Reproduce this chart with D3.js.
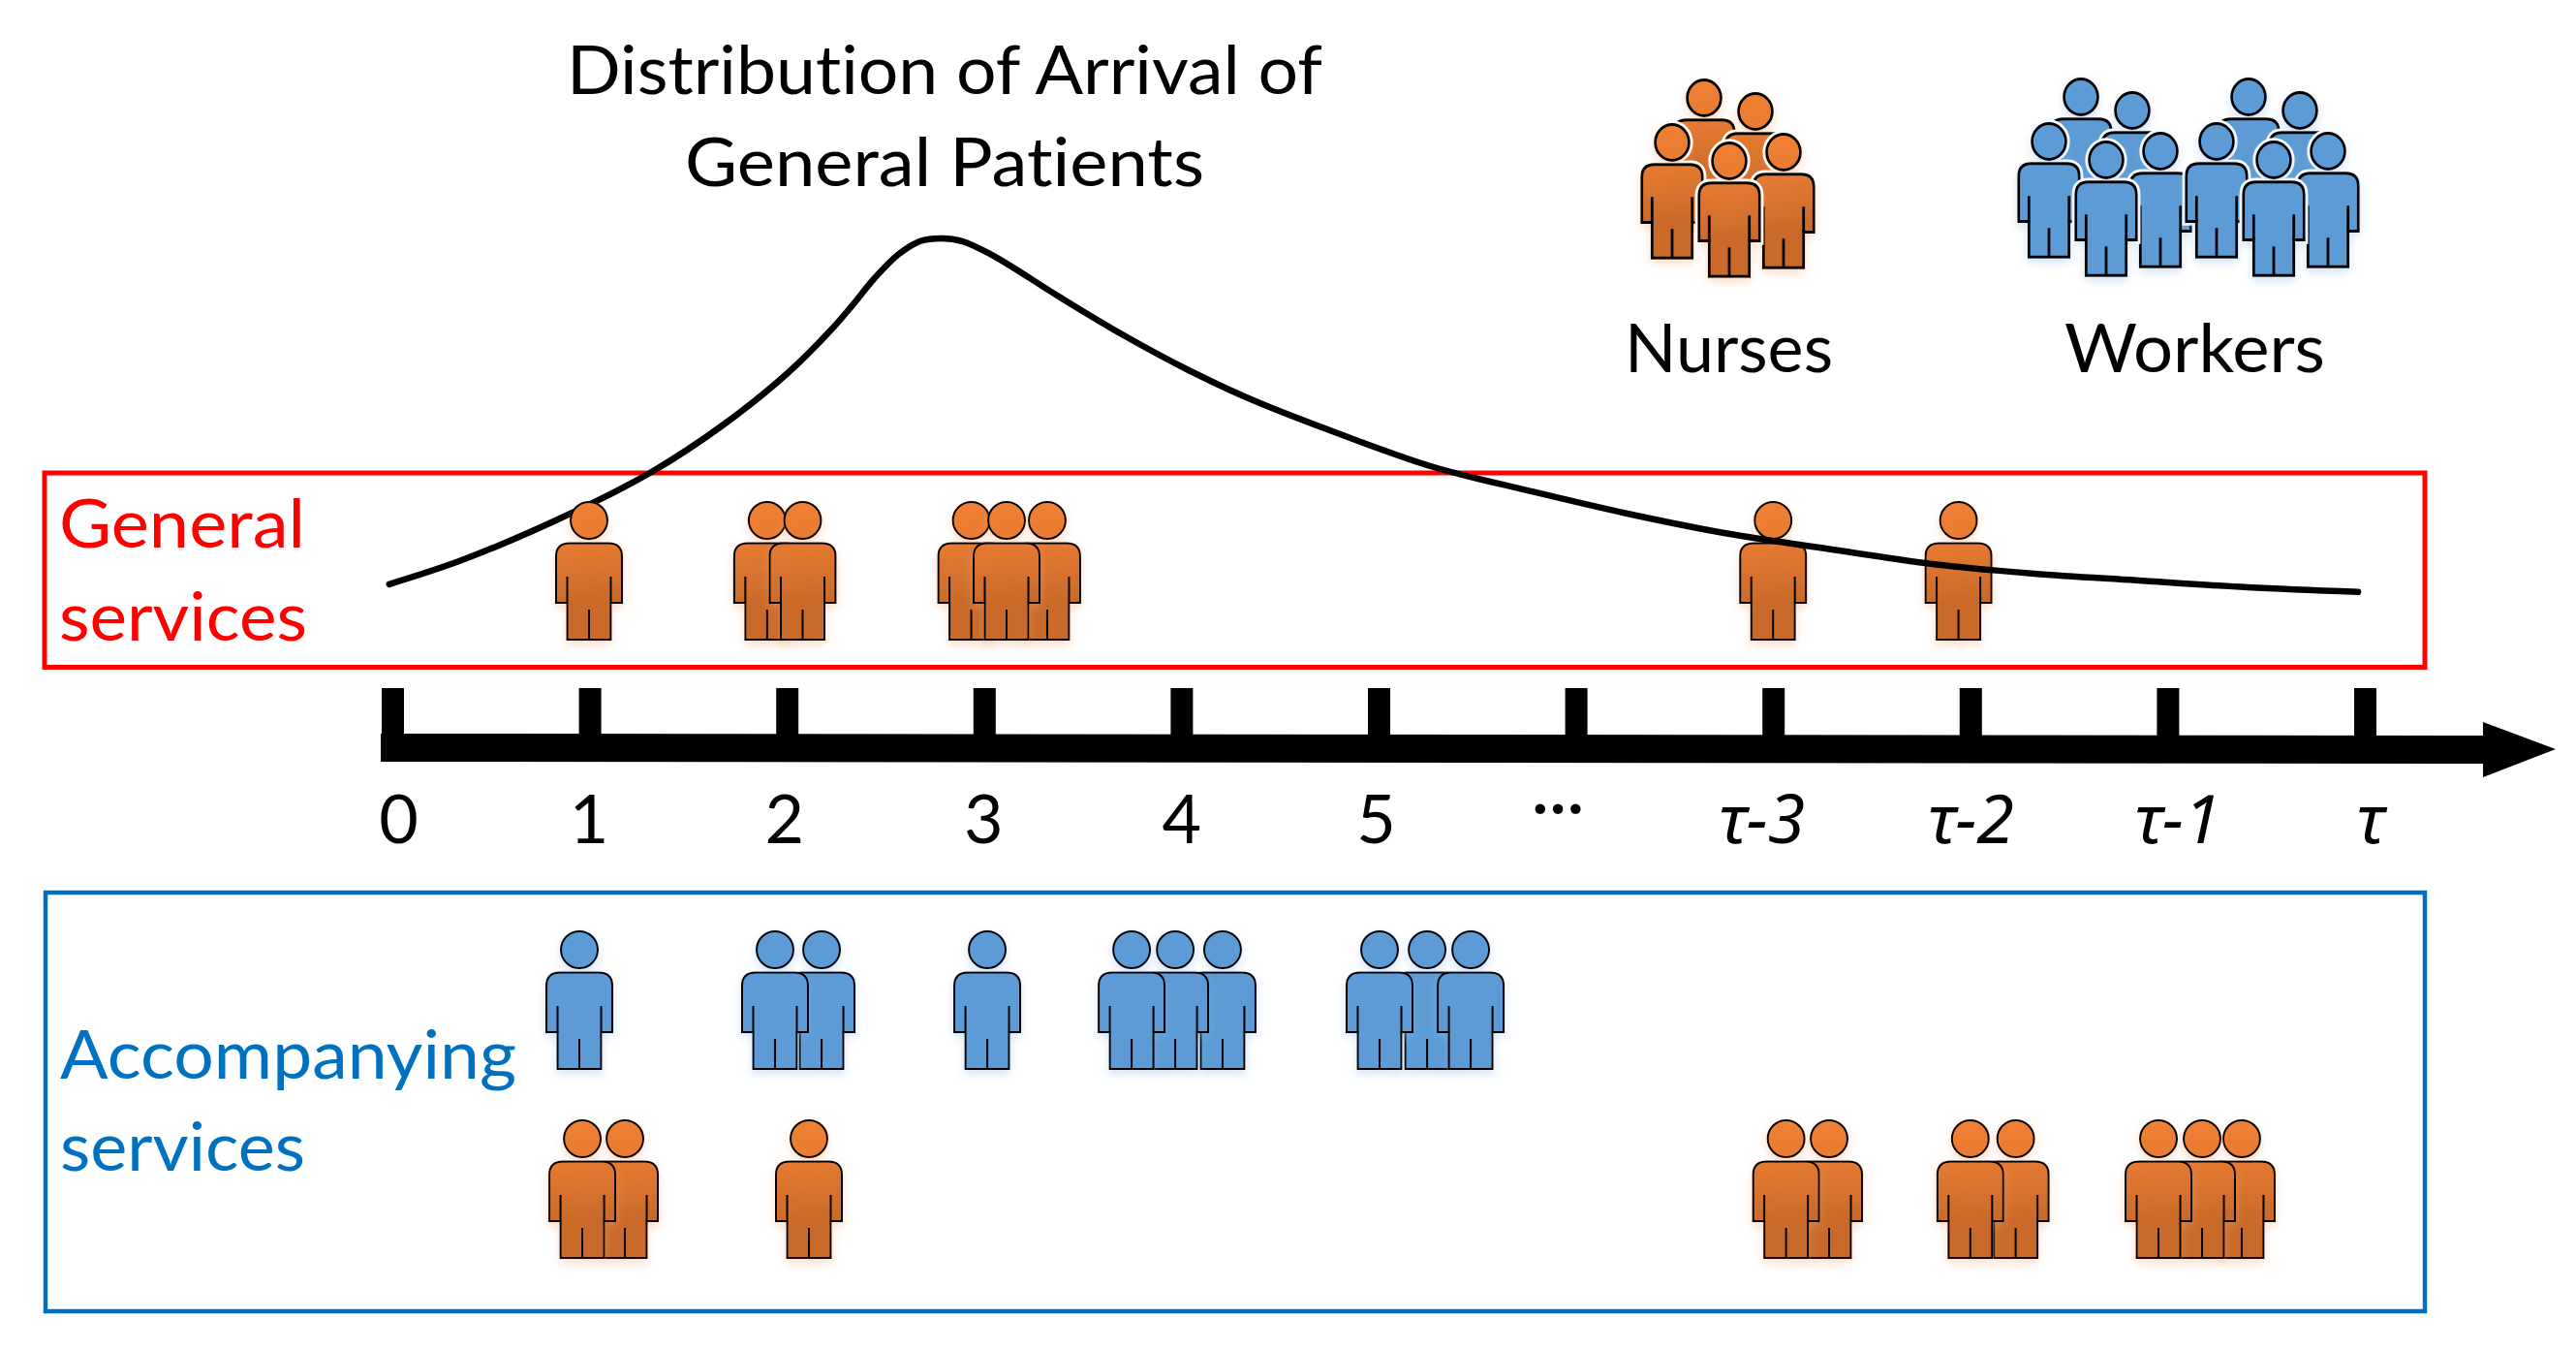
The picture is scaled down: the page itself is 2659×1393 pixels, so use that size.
<!DOCTYPE html>
<html>
<head>
<meta charset="utf-8">
<script src="https://d3js.org/d3.v7.min.js"></script>
<style>
  body { margin: 0; background: #fff; }
  text { font-family: Lato, "Noto Sans", sans-serif; fill: #000; font-variant-ligatures: none; }
</style>
</head>
<body>
<div id="chart"></div>
<script>
// Data. Time is in axis steps (0 = first tick, 10 = tau)
var tickValues = [0, 1, 2, 3, 4, 5, 6, 7, 8, 9, 10];
var tickLabels = ["0", "1", "2", "3", "4", "5", "···", "τ-3", "τ-2", "τ-1", "τ"];

// arrival curve, density is relative to the peak area of the drawing
var curveTime = [-0.016, 0.368, 0.923, 1.316, 1.68, 2.004, 2.235, 2.333, 2.446, 2.564, 2.677, 2.785, 2.888, 3.055, 3.379, 3.708, 4.037, 4.361, 4.789, 5.28, 5.771, 6.262, 6.753, 7.333, 7.839, 8.325, 8.841, 9.406, 9.966];
var curveDensity = [0.093, 0.158, 0.28, 0.383, 0.505, 0.6375, 0.755, 0.813, 0.883, 0.943, 0.978, 0.985, 0.978, 0.938, 0.835, 0.735, 0.645, 0.568, 0.483, 0.395, 0.333, 0.275, 0.225, 0.18, 0.143, 0.12, 0.103, 0.085, 0.073];

// people on each row, listed back to front
var generalNurses = [7.0, 7.94, 0.997, 1.90, 2.08, 2.935, 3.32, 3.114];
var accompanyingWorkers = [0.948, 2.176, 1.94, 3.016, 4.209, 3.969, 3.748, 5.246, 5.005, 5.467];
var accompanyingNurses = [1.179, 0.963, 2.112, 7.284, 7.066, 8.23, 8.0, 9.376, 9.175, 8.954];

var svgWidth = 2659;
var svgHeight = 1393;

var orange = "url(#orangeFill)";
var blue = "#5b9bd5";

var svg = d3.select("#chart")
    .append("svg")
    .attr("width", svgWidth)
    .attr("height", svgHeight)
    .style("display", "block");

var xScale = d3.scaleLinear().domain([0, 10]).range([405, 2441]);
var yScale = d3.scaleLinear().domain([0, 1]).range([640, 240]);

// gradient and soft glow of the person icons
var defs = svg.append("defs");
var grad = defs.append("linearGradient")
    .attr("id", "orangeFill")
    .attr("gradientUnits", "userSpaceOnUse")
    .attr("x1", 0).attr("y1", -19)
    .attr("x2", 12).attr("y2", 85);
grad.append("stop").attr("offset", "0").attr("stop-color", "#f08035");
grad.append("stop").attr("offset", "0.35").attr("stop-color", "#e87b31");
grad.append("stop").attr("offset", "1").attr("stop-color", "#c96a2b");

function glow(id, color) {
    var f = defs.append("filter")
        .attr("id", id)
        .attr("x", "-30%").attr("y", "-20%")
        .attr("width", "160%").attr("height", "145%");
    f.append("feDropShadow")
        .attr("dx", 0).attr("dy", 4)
        .attr("stdDeviation", 5)
        .attr("flood-color", color)
        .attr("flood-opacity", 0.4);
}
glow("glowOrange", "#f4a66f");
glow("glowBlue", "#8db8e3");

// boxes
svg.append("rect")
    .attr("x", 46).attr("y", 488)
    .attr("width", 2457).attr("height", 200.5)
    .attr("fill", "none")
    .attr("stroke", "#ff0000")
    .attr("stroke-width", 5);

svg.append("rect")
    .attr("x", 47).attr("y", 921)
    .attr("width", 2456).attr("height", 432)
    .attr("fill", "none")
    .attr("stroke", "#0070c0")
    .attr("stroke-width", 4.5);

// one person, origin is the centre of the head
var bodyPath = "M-34,85V37Q-34,23.5 -20,23.5H20Q34,23.5 34,37V85H22.5V123H-22.5V85Z";
var limbPath = "M-22.5,58V85M22.5,58V85M0,92V123";

function drawPerson(g, x, y, fill, filter, sw, sx, sy) {
    var p = g.append("g")
        .attr("transform", `translate(${x},${y}) scale(${sx || 1},${sy || 1})`);
    if (filter) p.attr("filter", filter);
    p.append("circle").attr("r", 19).attr("fill", fill).attr("stroke", "#000").attr("stroke-width", sw);
    p.append("path").attr("d", bodyPath).attr("fill", fill).attr("stroke", "#000").attr("stroke-width", sw);
    p.append("path").attr("d", limbPath).attr("fill", "none").attr("stroke", "#000").attr("stroke-width", sw);
    return p;
}

// the curve runs over the two late nurses but behind the early ones
var rows = svg.append("g");
generalNurses.slice(0, 2).forEach(t => drawPerson(rows, xScale(t), 537, orange, "url(#glowOrange)", 2));

var line = d3.line()
    .x(d => xScale(d))
    .y((d, i) => yScale(curveDensity[i]))
    .curve(d3.curveCatmullRom);

svg.append("path")
    .attr("d", line(curveTime))
    .attr("fill", "none")
    .attr("stroke", "#000")
    .attr("stroke-width", 6.5)
    .attr("stroke-linecap", "round");

var rowsFront = svg.append("g");
generalNurses.slice(2).forEach(t => drawPerson(rowsFront, xScale(t), 537, orange, "url(#glowOrange)", 2));
accompanyingWorkers.forEach(t => drawPerson(rowsFront, xScale(t), 980, blue, "url(#glowBlue)", 2));
accompanyingNurses.forEach(t => drawPerson(rowsFront, xScale(t), 1175, orange, "url(#glowOrange)", 2));

// time axis: ticks come from d3.axisBottom, the thick bar with its arrow is drawn on top
var axisY = 773;
var xAxis = d3.axisBottom(xScale)
    .tickValues(tickValues)
    .tickFormat((d, i) => tickLabels[i])
    .tickSizeOuter(0)
    .tickSizeInner(axisY - 710);

var axisGroup = svg.append("g")
    .attr("transform", `translate(0, ${axisY})`)
    .call(xAxis);

axisGroup.select(".domain").remove();
axisGroup.selectAll(".tick line")
    .attr("y2", 710 - axisY)
    .attr("stroke", "#000")
    .attr("stroke-width", 23);

var labelNudge = [6, -1, -3, -1, 0, -3, -19, -12, 0, 10, 5];
axisGroup.selectAll(".tick text")
    .attr("x", (d, i) => labelNudge[i])
    .attr("y", 870 - axisY)
    .attr("dy", (d, i) => i === 6 ? -14 : 0)
    .attr("text-anchor", "middle")
    .style("font-family", (d, i) => i > 6 ? '"Noto Sans", sans-serif' : null)
    .style("font-style", (d, i) => i > 6 ? "italic" : null)
    .style("font-size", (d, i) => i > 6 ? "70px" : "70px");

var x0 = xScale(0) - 12;
svg.append("path")
    .attr("d", `M${x0},757 L2563,759 V745 L2638,773 L2563,802 V788 L${x0},786 Z`)
    .attr("fill", "#000");

// texts: label, left x, baseline, width, colour
function addText(label, left, baseline, width, color) {
    svg.append("text")
        .attr("x", left)
        .attr("y", baseline)
        .attr("textLength", width)
        .attr("lengthAdjust", "spacingAndGlyphs")
        .style("font-size", "70px")
        .style("fill", color || "#000")
        .text(label);
}

addText("Distribution of Arrival of", 585, 97, 780);
addText("General Patients", 707, 192, 536);
addText("Nurses", 1677, 384, 215);
addText("Workers", 2131, 384, 269);
addText("General", 61, 565, 254, "#ff0000");
addText("services", 61, 661, 256, "#ff0000");
addText("Accompanying", 62, 1113, 471, "#0070c0");
addText("services", 62, 1208, 253, "#0070c0");

// legend groups, the white outline separates the crowded people
var crowd = [[0, 0], [53, 14], [-33, 46], [82, 56], [26, 65]];

function drawCrowd(x, y, fill, filter) {
    crowd.forEach(function(c) {
        var px = x + c[0], py = y + c[1];
        var halo = svg.append("g")
            .attr("transform", `translate(${px},${py}) scale(0.92,0.97)`);
        halo.append("circle").attr("r", 19).attr("fill", "#fff").attr("stroke", "#fff").attr("stroke-width", 9);
        halo.append("path").attr("d", bodyPath).attr("fill", "#fff").attr("stroke", "#fff").attr("stroke-width", 9);
        drawPerson(svg, px, py, fill, filter, 3, 0.92, 0.97);
    });
}

drawCrowd(1759, 101, orange, "url(#glowOrange)");
drawCrowd(2148, 100, blue, "url(#glowBlue)");
drawCrowd(2321, 100, blue, "url(#glowBlue)");
</script>
</body>
</html>
